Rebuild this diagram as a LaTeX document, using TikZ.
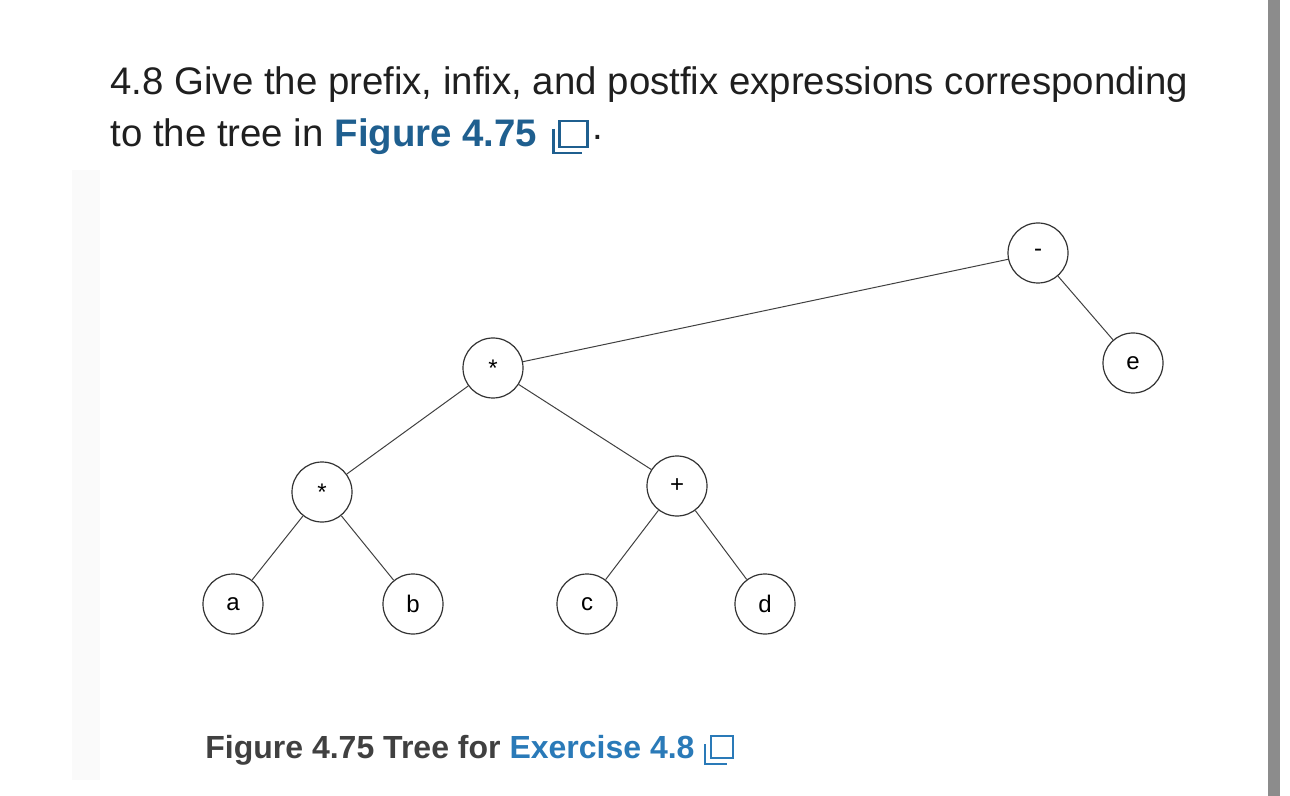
\documentclass[tikz,border=0pt]{standalone}
\usepackage{fontspec}
\setmainfont{Liberation Sans}
\begin{document}
\begin{tikzpicture}[x=0.5pt,y=-0.5pt,
  tn/.style={circle,draw=black!80,line width=0.6pt,fill=white,minimum size=30pt,inner sep=0pt,font=\fontsize{12}{14}\selectfont},
  edge/.style={draw=black!75,line width=0.5pt},
  hdr/.style={anchor=west,inner sep=0pt,font=\fontsize{19.2}{23}\selectfont,text=black!88}]
\useasboundingbox (0,0) rectangle (1290,796);
\fill[black!2] (72,170) rectangle (100,780);
\fill[black!45] (1268,0) rectangle (1280,796);
\node[hdr] (h1) at (110,85) {4.8 Give the prefix, infix, and postfix expressions corresponding};
\node[hdr] (h2) at (110,137) {to the tree in \textcolor[HTML]{1F5F8F}{\textbf{Figure 4.75}}};
\begin{scope}[shift={([xshift=8pt]h2.east)},x=1pt,y=1pt,draw={rgb,255:red,31;green,95;blue,143},line width=1.3pt]
  \draw (0,4) -- (0,-8) -- (14,-8);
  \draw (3,-5) rectangle (17,8);
\end{scope}
\node[hdr,anchor=west] (dot) at ([xshift=27pt]h2.east) {.};
\node[tn] (m) at (1038,253) {-};
\node[tn] (e) at (1133,363) {e};
\node[tn] (s1) at (493,368) {*};
\node[tn] (s2) at (322,492) {*};
\node[tn] (p) at (677,486) {+};
\node[tn] (a) at (233,604) {a};
\node[tn] (b) at (413,604) {b};
\node[tn] (c) at (587,604) {c};
\node[tn] (d) at (765,604) {d};
\draw[edge] (m)--(e) (m)--(s1) (s1)--(s2) (s1)--(p) (s2)--(a) (s2)--(b) (p)--(c) (p)--(d);
\node[anchor=west,inner sep=0pt,font=\fontsize{16}{19}\selectfont\bfseries,text=black!75] (cap) at (205,750) {Figure 4.75 Tree for \textcolor[HTML]{2A7AB8}{Exercise 4.8}};
\begin{scope}[shift={([xshift=5pt]cap.east)},x=1pt,y=1pt,draw={rgb,255:red,42;green,122;blue,184},line width=1.1pt]
  \draw (0,3) -- (0,-7) -- (11,-7);
  \draw (3,-4) rectangle (14,7);
\end{scope}
\end{tikzpicture}
\end{document}
